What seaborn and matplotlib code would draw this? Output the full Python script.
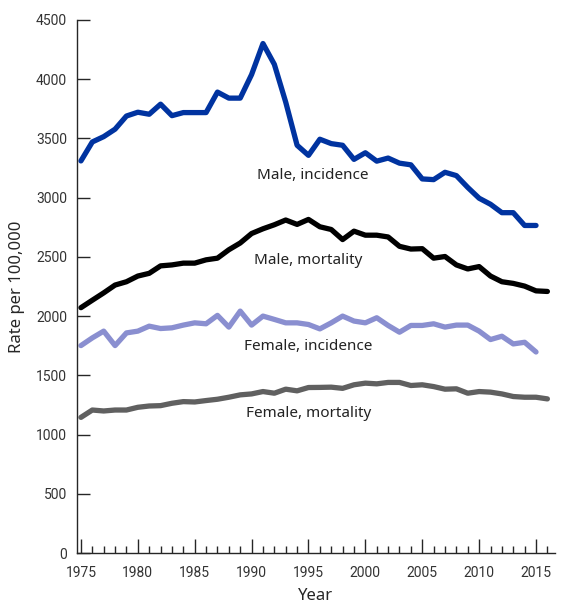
import numpy as np
import pandas as pd
import seaborn as sns
import matplotlib.pyplot as plt
from matplotlib.ticker import MultipleLocator

# rates per 100,000
years_75_15 = list(range(1975, 2016))
years_75_16 = list(range(1975, 2017))

male_incidence = [3310, 3470, 3515, 3578, 3689, 3721, 3704, 3789, 3692, 3718,
                  3718, 3718, 3891, 3840, 3840, 4039, 4301, 4125, 3806, 3442,
                  3357, 3493, 3456, 3442, 3323, 3379, 3308, 3334, 3291, 3277,
                  3158, 3152, 3214, 3186, 3086, 2995, 2944, 2873, 2873, 2765,
                  2765]
male_mortality = [2071, 2134, 2196, 2262, 2290, 2338, 2361, 2424, 2432, 2447,
                  2447, 2475, 2489, 2560, 2617, 2697, 2737, 2771, 2811, 2774,
                  2816, 2754, 2731, 2646, 2717, 2683, 2683, 2668, 2589, 2566,
                  2569, 2489, 2503, 2432, 2398, 2418, 2338, 2290, 2276, 2253,
                  2213, 2208]
female_incidence = [1751, 1816, 1873, 1751, 1858, 1873, 1915, 1895, 1901, 1924,
                    1943, 1935, 2006, 1907, 2042, 1924, 2000, 1972, 1943, 1943,
                    1929, 1892, 1943, 2000, 1958, 1943, 1986, 1921, 1864, 1921,
                    1921, 1935, 1907, 1924, 1924, 1873, 1802, 1830, 1765, 1779,
                    1697]
female_mortality = [1145, 1207, 1199, 1207, 1207, 1230, 1241, 1244, 1264, 1278,
                    1275, 1287, 1298, 1315, 1335, 1343, 1363, 1349, 1383, 1369,
                    1397, 1398, 1400, 1390, 1420, 1434, 1428, 1440, 1440, 1414,
                    1420, 1405, 1383, 1386, 1349, 1363, 1358, 1343, 1321, 1315,
                    1315, 1301]

series_names = ["Male, incidence", "Male, mortality", "Female, incidence", "Female, mortality"]
colors = ["#0033a0", "#000000", "#8a8fd0", "#606060"]
label_x = [1995.4, 1995.0, 1995.0, 1995.0]
label_y = [3186, 2466, 1746, 1178]

frames = [
    pd.DataFrame({"year": years_75_15, "rate": male_incidence, "series": series_names[0]}),
    pd.DataFrame({"year": years_75_16, "rate": male_mortality, "series": series_names[1]}),
    pd.DataFrame({"year": years_75_15, "rate": female_incidence, "series": series_names[2]}),
    pd.DataFrame({"year": years_75_16, "rate": female_mortality, "series": series_names[3]}),
]
df = pd.concat(frames, ignore_index=True)

sns.set_style("ticks")
plt.rcParams['font.family'] = ['Noto Sans', 'DejaVu Sans']

fig = plt.figure(figsize=(5.83, 6.12), dpi=100)
ax = fig.add_axes([0.132, 0.0964, 0.82, 0.871])

sns.lineplot(data=df, x="year", y="rate", hue="series", hue_order=series_names,
             palette=colors, linewidth=3.8, legend=False, ax=ax)

for name, x, y in zip(series_names, label_x, label_y):
    ax.text(x, y, name, ha="center", va="center", fontsize=11, color="#222222")

ax.set_xlim(1974.65, 2016.67)
ax.set_ylim(0, 4500)
ax.xaxis.set_major_locator(MultipleLocator(5))
ax.xaxis.set_minor_locator(MultipleLocator(1))
ax.yaxis.set_major_locator(MultipleLocator(500))
ax.tick_params(axis="x", which="major", direction="in", length=10, width=1, labelsize=10, pad=9)
ax.tick_params(axis="x", which="minor", direction="in", length=5, width=1)
ax.tick_params(axis="y", direction="in", length=9, width=1, labelsize=10, pad=7)
for lab in ax.get_xticklabels() + ax.get_yticklabels():
    lab.set_family(['Roboto', 'DejaVu Sans'])
    lab.set_color("#333333")
sns.despine(ax=ax)
ax.spines["left"].set_linewidth(1)
ax.spines["bottom"].set_linewidth(1)

ax.set_xlabel("Year", fontsize=12, labelpad=6)
ax.set_ylabel("Rate per 100,000", fontsize=12, labelpad=8)

fig.savefig("out.png", dpi=100)
